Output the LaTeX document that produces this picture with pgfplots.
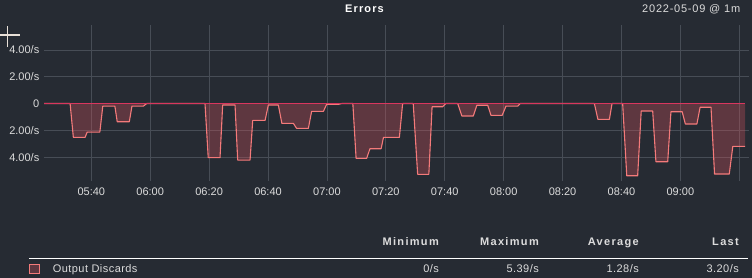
\documentclass[border=0pt]{standalone}
\usepackage{pgfplots}
\pgfplotsset{compat=1.18}
\usepackage{fontspec}
\setmainfont{Liberation Sans}
\definecolor{bg}{HTML}{262B33}
\definecolor{gridc}{HTML}{474D56}
\definecolor{txt}{HTML}{DCDCDC}
\definecolor{salmon}{HTML}{F47A7A}
\definecolor{fillc}{HTML}{C8505A}
\definecolor{zeroc}{HTML}{D9365E}
\definecolor{cursor}{HTML}{E8E0D8}
\newcommand{\fs}{\fontsize{11}{13}\selectfont}
\begin{document}
\begin{tikzpicture}
\fill[bg] (0pt,0pt) rectangle (752pt,-278pt);
\begin{axis}[
  at={(44.3pt,-181pt)}, anchor=south west,
  scale only axis, width=704.7pt, height=156pt,
  xmin=24.04, xmax=263.3, ymin=-5.78, ymax=5.86,
  axis line style={draw=none},
  major tick length=0pt,
  xtick={40,60,80,100,120,140,160,180,200,220,240,260},
  xticklabels={05:40,06:00,06:20,06:40,07:00,07:20,07:40,08:00,08:20,08:40,09:00,},
  ytick={-4,-2,2,4},
  yticklabels={4.00/s,2.00/s,2.00/s,4.00/s},
  extra y ticks={0}, extra y tick labels={0},
  extra y tick style={grid=none},
  grid=major,
  major grid style={gridc, line width=0.8pt},
  /pgf/number format/assume math mode=true,
  ticklabel style={font=\fs, text=txt},
  xticklabel style={yshift=-3pt},
  yticklabel style={xshift=-1.5pt},
  clip=false,
]
\addplot[draw=none, fill=fillc, fill opacity=0.35] coordinates {
(24,0) (32.8,0) (33.9,-2.52) (37.9,-2.52) (38.6,-2.13) (42.9,-2.13) (43.9,-0.19) (48.0,-0.19)
(48.8,-1.36) (52.9,-1.36) (53.8,-0.19) (57.7,-0.19) (58.8,0) (78.6,0) (79.7,-4.04) (83.7,-4.04)
(84.6,-0.11) (88.8,-0.11) (89.7,-4.22) (93.9,-4.22) (94.8,-1.26) (99.0,-1.26) (100.1,-0.11) (103.5,-0.11)
(104.7,-1.48) (108.6,-1.48) (109.7,-1.85) (113.7,-1.85) (114.8,-0.58) (118.8,-0.58) (119.9,-0.06) (123.9,-0.06)
(125.0,0) (128.8,0) (129.9,-4.09) (133.5,-4.09) (134.6,-3.37) (138.4,-3.37) (139.2,-2.52) (144.6,-2.52)
(145.7,0) (149.3,0) (150.8,-5.28) (154.6,-5.28) (155.7,-0.24) (159.3,-0.24) (160.4,0) (164.4,0)
(165.8,-0.93) (169.7,-0.93) (170.9,-0.13) (174.6,-0.13) (175.7,-0.88) (179.5,-0.88) (180.8,-0.19) (184.8,-0.19)
(185.6,0) (210.8,0) (212.0,-1.18) (215.9,-1.18) (216.8,0) (220.4,0) (221.8,-5.39) (225.5,-5.39)
(226.7,-0.56) (230.6,-0.56) (231.7,-4.34) (235.7,-4.34) (236.8,-0.61) (240.6,-0.61) (241.7,-1.53) (245.6,-1.53)
(246.7,-0.28) (250.4,-0.28) (251.6,-5.26) (256.6,-5.26) (257.8,-3.20) (262.0,-3.20)
} \closedcycle;
\addplot[salmon, line width=1.1pt, line join=round] coordinates {
(24,0) (32.8,0) (33.9,-2.52) (37.9,-2.52) (38.6,-2.13) (42.9,-2.13) (43.9,-0.19) (48.0,-0.19)
(48.8,-1.36) (52.9,-1.36) (53.8,-0.19) (57.7,-0.19) (58.8,0) (78.6,0) (79.7,-4.04) (83.7,-4.04)
(84.6,-0.11) (88.8,-0.11) (89.7,-4.22) (93.9,-4.22) (94.8,-1.26) (99.0,-1.26) (100.1,-0.11) (103.5,-0.11)
(104.7,-1.48) (108.6,-1.48) (109.7,-1.85) (113.7,-1.85) (114.8,-0.58) (118.8,-0.58) (119.9,-0.06) (123.9,-0.06)
(125.0,0) (128.8,0) (129.9,-4.09) (133.5,-4.09) (134.6,-3.37) (138.4,-3.37) (139.2,-2.52) (144.6,-2.52)
(145.7,0) (149.3,0) (150.8,-5.28) (154.6,-5.28) (155.7,-0.24) (159.3,-0.24) (160.4,0) (164.4,0)
(165.8,-0.93) (169.7,-0.93) (170.9,-0.13) (174.6,-0.13) (175.7,-0.88) (179.5,-0.88) (180.8,-0.19) (184.8,-0.19)
(185.6,0) (210.8,0) (212.0,-1.18) (215.9,-1.18) (216.8,0) (220.4,0) (221.8,-5.39) (225.5,-5.39)
(226.7,-0.56) (230.6,-0.56) (231.7,-4.34) (235.7,-4.34) (236.8,-0.61) (240.6,-0.61) (241.7,-1.53) (245.6,-1.53)
(246.7,-0.28) (250.4,-0.28) (251.6,-5.26) (256.6,-5.26) (257.8,-3.20) (262.0,-3.20)
};
\addplot[zeroc, line width=1.5pt] coordinates {(24.04,0) (262.0,0)};
\end{axis}
% title and date
\node[anchor=base, text=white, inner sep=0pt] at (364.5pt,-12.7pt) {\fs\addfontfeatures{LetterSpace=10}\bfseries Errors};
\node[anchor=base east, text=txt, inner sep=0pt] at (740.5pt,-12.7pt) {\fs\addfontfeatures{LetterSpace=7}2022-05-09 @ 1m};
% cursor
\draw[cursor, line width=1.5pt] (7.3pt,-26pt) -- (7.3pt,-46.7pt);
\draw[cursor, line width=1.5pt] (0pt,-35pt) -- (20pt,-35pt);
% table header
\foreach \x/\t in {439/Minimum, 539/Maximum, 639/Average, 739/Last}{
  \node[anchor=base east, text=txt, inner sep=0pt] at (\x pt,-245pt) {\fs\addfontfeatures{LetterSpace=12}\bfseries \t};
}
\draw[white, line width=1.2pt] (29.3pt,-258.3pt) -- (748pt,-258.3pt);
% row
\filldraw[draw=salmon, fill=fillc, fill opacity=0.35, draw opacity=1, line width=1pt] (29.8pt,-264.8pt) rectangle (39.5pt,-273.8pt);
\node[anchor=base west, text=txt, inner sep=0pt] at (52.7pt,-272.7pt) {\fs\addfontfeatures{LetterSpace=4}Output Discards};
\foreach \x/\t in {439/{0/s}, 539/{5.39/s}, 639/{1.28/s}, 739/{3.20/s}}{
  \node[anchor=base east, text=txt, inner sep=0pt] at (\x pt,-272.5pt) {\fs\addfontfeatures{LetterSpace=4}\t};
}
\pgfresetboundingbox
\useasboundingbox (0pt,0pt) rectangle (752pt,-278pt);
\end{tikzpicture}
\end{document}
